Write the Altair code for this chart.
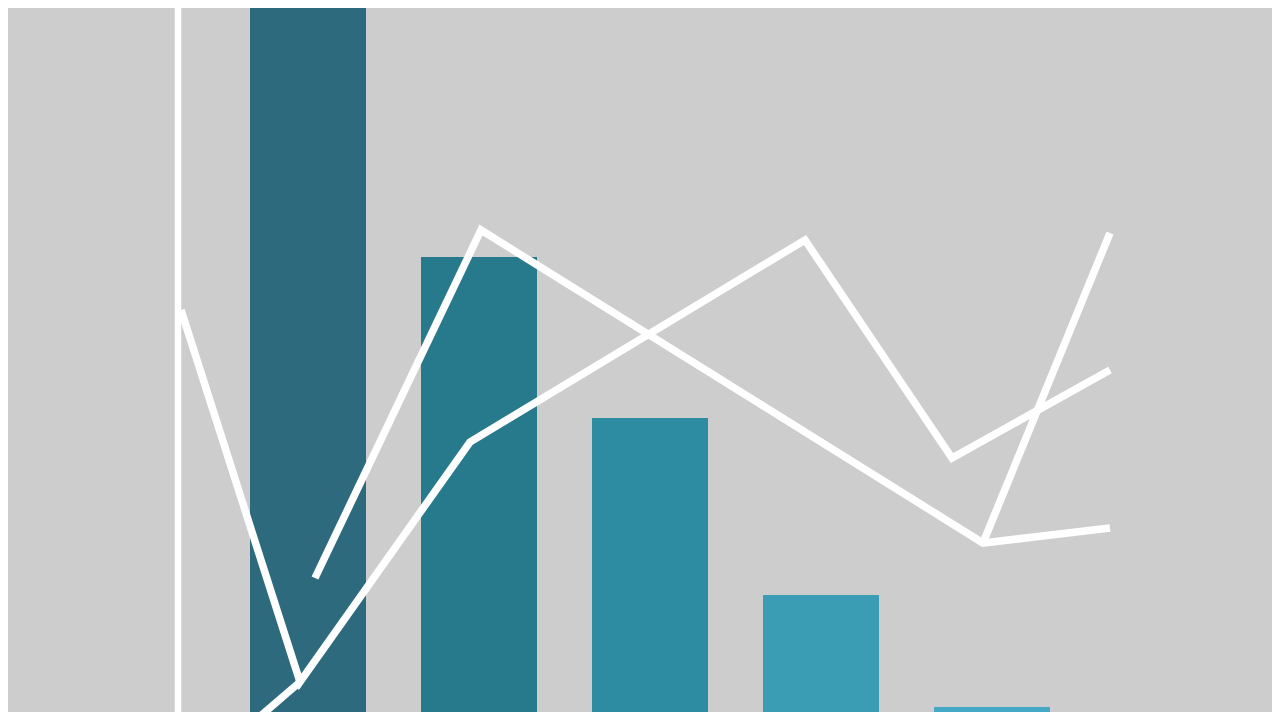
import altair as alt
import pandas as pd

# Bars: left/right edges (x) and heights (value above baseline)
bar_cat = ["A", "B", "C", "D", "E"]
bar_left = [250, 421, 592, 763, 934]
bar_right = [366, 537, 708, 879, 1050]
bar_value = [760, 463, 302, 125, 13]
bar_color = ["#2e6a7e", "#267a8c", "#2e8ca2", "#3a9db3", "#44a8c6"]

# White polylines (x, value)
line1_x = [181, 300, 470, 805, 952, 1110]
line1_y = [410, 38, 278, 480, 262, 350]
line2_x = [250, 300]
line2_y = [-5, 38]
line3_x = [315, 481, 983, 1110]
line3_y = [142, 490, 177, 192]
line4_x = [983, 1110]
line4_y = [177, 487]

# Vertical white axis line position
axis_x = [178]

BG = "#cdcdcd"

bars = pd.DataFrame({"cat": bar_cat, "x": bar_left, "x2": bar_right,
                     "v": bar_value, "base": [0] * 5, "color": bar_color})

rows = []
for name, xs_, ys_ in [("l1", line1_x, line1_y), ("l2", line2_x, line2_y),
                       ("l3", line3_x, line3_y), ("l4", line4_x, line4_y)]:
    for i, (a, b) in enumerate(zip(xs_, ys_)):
        rows.append({"series": name, "order": i, "x": a, "v": b})
lines = pd.DataFrame(rows)

xs = alt.Scale(domain=[8, 1272], nice=False, zero=False)
ys = alt.Scale(domain=[8, 712], nice=False, zero=False)

bar_layer = alt.Chart(bars).mark_bar(clip=True).encode(
    x=alt.X("x:Q", scale=xs, axis=None),
    x2="x2:Q",
    y=alt.Y("v:Q", scale=ys, axis=None),
    y2="base:Q",
    color=alt.Color("color:N", scale=None, legend=None),
)

line_layer = alt.Chart(lines).mark_line(
    clip=True, color="white", strokeWidth=7.5, strokeJoin="miter", strokeCap="butt"
).encode(
    x=alt.X("x:Q", scale=xs, axis=None),
    y=alt.Y("v:Q", scale=ys, axis=None),
    detail="series:N",
    order="order:Q",
)

rule_layer = alt.Chart(pd.DataFrame({"x": axis_x})).mark_rule(
    color="white", strokeWidth=6.5
).encode(
    x=alt.X("x:Q", scale=xs, axis=None),
)

chart = alt.layer(bar_layer, line_layer, rule_layer).properties(
    width=1264, height=704, background=BG, padding=0,
    autosize=alt.AutoSizeParams(type="none"),
).configure_view(stroke=None, fill=BG)

chart.save("out.html", embed_options={"renderer": "svg", "actions": False})
